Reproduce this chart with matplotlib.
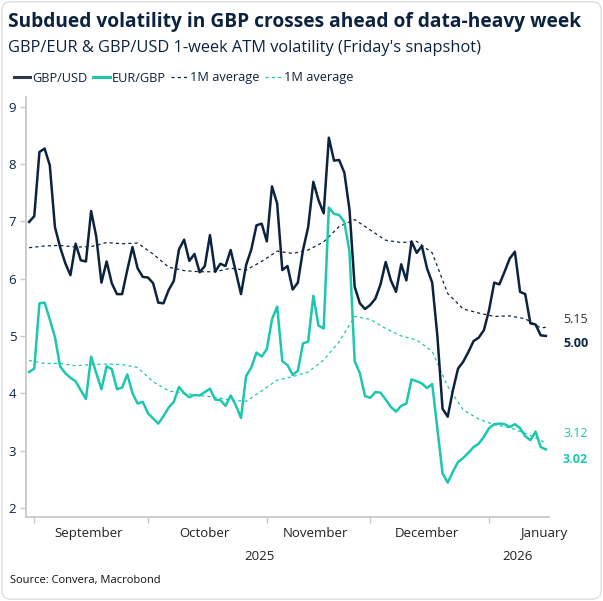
import numpy as np
import pandas as pd
import matplotlib
matplotlib.use('Agg')
import matplotlib.pyplot as plt
from matplotlib.lines import Line2D
from matplotlib.patches import FancyBboxPatch
import matplotlib.transforms as mtransforms

plt.rcParams['font.family'] = ['Open Sans', 'DejaVu Sans']

# Business-day dates of the snapshot
dates = pd.bdate_range('2025-08-29', '2026-01-16')

gbpusd = [6.99, 7.09, 8.21, 8.27, 7.98, 6.90, 6.55, 6.27, 6.06, 6.61,
          6.32, 6.30, 7.18, 6.73, 5.93, 6.30, 5.92, 5.73, 5.73, 6.15,
          6.55, 6.18, 6.03, 6.02, 5.92, 5.58, 5.57, 5.80, 5.96, 6.51,
          6.68, 6.31, 6.43, 6.11, 6.22, 6.76, 6.12, 6.26, 6.22, 6.50,
          6.12, 5.73, 6.24, 6.51, 6.93, 6.96, 6.65, 7.61, 7.31, 6.15,
          6.22, 5.81, 5.93, 6.50, 6.90, 7.69, 7.37, 7.14, 8.46, 8.06,
          8.07, 7.85, 7.20, 5.86, 5.57, 5.47, 5.54, 5.65, 5.90, 6.29,
          5.97, 5.77, 6.25, 5.97, 6.65, 6.45, 6.57, 6.18, 5.93, 5.00,
          3.73, 3.59, 4.05, 4.43, 4.55, 4.72, 4.91, 4.97, 5.10, 5.45,
          5.93, 5.90, 6.12, 6.35, 6.47, 5.77, 5.73, 5.22, 5.20, 5.01,
          5.00]

eurgbp = [4.37, 4.43, 5.57, 5.58, 5.29, 4.98, 4.47, 4.35, 4.27, 4.21,
          4.05, 3.90, 4.64, 4.35, 4.07, 4.47, 4.42, 4.07, 4.10, 4.33,
          4.00, 3.82, 3.85, 3.65, 3.56, 3.47, 3.60, 3.75, 3.85, 4.11,
          4.00, 3.93, 3.97, 3.96, 4.02, 4.08, 3.89, 3.88, 3.78, 3.96,
          3.79, 3.57, 4.30, 4.45, 4.71, 4.64, 4.77, 5.29, 5.51, 4.56,
          4.49, 4.32, 4.39, 4.87, 4.90, 5.70, 5.18, 5.13, 7.24, 7.13,
          7.11, 6.99, 6.47, 4.56, 4.35, 3.95, 3.92, 4.02, 4.01, 3.89,
          3.76, 3.68, 3.78, 3.82, 4.24, 4.21, 4.17, 4.09, 4.16, 3.38,
          2.60, 2.44, 2.63, 2.80, 2.87, 2.96, 3.06, 3.12, 3.24, 3.39,
          3.46, 3.47, 3.46, 3.41, 3.46, 3.39, 3.25, 3.18, 3.33, 3.06,
          3.02]

# 1M averages read at every third business day
avg_idx = list(range(0, 100, 3)) + [100]
gbpusd_1m = [6.54, 6.57, 6.58, 6.55, 6.56, 6.63, 6.61, 6.62, 6.43, 6.20,
             6.14, 6.12, 6.12, 6.18, 6.15, 6.30, 6.48, 6.44, 6.50, 6.64,
             6.91, 7.03, 6.85, 6.67, 6.63, 6.65, 6.45, 5.74, 5.47, 5.40,
             5.34, 5.35, 5.30, 5.14, 5.15]
eurgbp_1m = [4.57, 4.52, 4.52, 4.48, 4.50, 4.51, 4.50, 4.45, 4.20, 4.04,
             4.00, 3.96, 3.93, 3.88, 3.86, 4.04, 4.23, 4.29, 4.37, 4.58,
             4.90, 5.34, 5.29, 5.13, 5.00, 4.93, 4.73, 4.12, 3.71, 3.55,
             3.45, 3.40, 3.30, 3.18, 3.12]

months = ['September', 'October', 'November', 'December', 'January']
years = ['2025', '2026']

NAVY = '#0c2340'
TEAL = '#1cc7ae'
GRID = '#c8c8c8'

x = np.arange(len(dates))

fig = plt.figure(figsize=(6.03, 6.01), dpi=100)
ax = fig.add_axes([26 / 603, 1 - 517 / 601, 523 / 603, 420 / 601])

ax.plot(avg_idx, gbpusd_1m, color=NAVY, lw=0.9, ls=(0, (2.5, 2.5)))
ax.plot(avg_idx, eurgbp_1m, color=TEAL, lw=0.9, ls=(0, (2.5, 2.5)))
ax.plot(x, gbpusd, color=NAVY, lw=1.8)
ax.plot(x, eurgbp, color=TEAL, lw=1.8)

ax.set_xlim(-0.6, 100.6)
ax.set_ylim(1.84, 9.17)

# month ticks at the first business day of each month
starts = [i for i in range(1, len(dates)) if dates[i].month != dates[i - 1].month]
ax.set_xticks(starts)
ax.set_xticklabels([])
ax.tick_params(axis='x', length=4, color=GRID, width=1)
ax.set_yticks(range(2, 10))
ax.tick_params(axis='y', length=4, color=GRID, width=1, labelsize=9.5,
               labelcolor=NAVY, pad=3)

for s in ['top', 'right']:
    ax.spines[s].set_visible(False)
for s in ['left', 'bottom']:
    ax.spines[s].set_color(GRID)
    ax.spines[s].set_linewidth(1.3)

# month labels centred on each month's business days
jan_end = len(pd.bdate_range('2026-01-01', '2026-01-31'))
bounds = starts + [starts[-1] + jan_end]
trans = mtransforms.blended_transform_factory(ax.transData, ax.transAxes)
for i, m in enumerate(months):
    mid = (bounds[i] + bounds[i + 1] - 1) / 2
    ax.text(mid, -0.04, m, transform=trans, ha='center', va='center',
            fontsize=9.5, color='#222222')
ax.text((starts[0] + starts[-1] - 1) / 2, -0.093, years[0], transform=trans,
        ha='center', va='center', fontsize=9.5, color='#222222')
ax.text((starts[-1] + x[-1]) / 2, -0.093, years[1], transform=trans,
        ha='center', va='center', fontsize=9.5, color='#222222')

# end-of-series labels
tr_lab = mtransforms.blended_transform_factory(fig.transFigure, ax.transData)
ax.text(563 / 603, gbpusd_1m[-1] + 0.14, f'{gbpusd_1m[-1]:.2f}', transform=tr_lab,
        va='center', fontsize=9, color='#333333')
ax.text(563 / 603, gbpusd[-1] - 0.13, f'{gbpusd[-1]:.2f}', transform=tr_lab,
        va='center', fontsize=9, color=NAVY, fontweight='bold')
ax.text(563 / 603, eurgbp_1m[-1] + 0.18, f'{eurgbp_1m[-1]:.2f}', transform=tr_lab,
        va='center', fontsize=9, color=TEAL)
ax.text(563 / 603, eurgbp[-1] - 0.17, f'{eurgbp[-1]:.2f}', transform=tr_lab,
        va='center', fontsize=9, color=TEAL, fontweight='bold')

# titles
fig.text(8 / 603, 1 - 22 / 601, 'Subdued volatility in GBP crosses ahead of data-heavy week',
         fontsize=13.75, fontweight='bold', color=NAVY, va='center')
fig.text(8 / 603, 1 - 48 / 601, "GBP/EUR & GBP/USD 1-week ATM volatility (Friday's snapshot)",
         fontsize=11.8, color=NAVY, va='center')

handles = [Line2D([], [], color='#2e3a4b', lw=2.2),
           Line2D([], [], color=TEAL, lw=2.2),
           Line2D([], [], color=NAVY, lw=0.9, ls=(0, (2.5, 2.5))),
           Line2D([], [], color=TEAL, lw=0.9, ls=(0, (2.5, 2.5)))]
fig.legend(handles, ['GBP/USD', 'EUR/GBP', '1M average', '1M average'],
           loc='center left', bbox_to_anchor=(2 / 603, 1 - 78 / 601), ncol=4,
           frameon=False, fontsize=9.2, handlelength=1.3, handletextpad=0.2,
           columnspacing=0.4, labelcolor=NAVY)

fig.text(10 / 603, 1 - 580 / 601, 'Source: Convera, Macrobond', fontsize=8,
         color='#111111', va='center')

fig.patches.append(FancyBboxPatch((0.003, 0.003), 0.994, 0.994,
                                  boxstyle='round,pad=0,rounding_size=0.015',
                                  transform=fig.transFigure, fill=False,
                                  edgecolor='#dddddd', lw=1))

fig.savefig('out.png', dpi=100, facecolor='white')
